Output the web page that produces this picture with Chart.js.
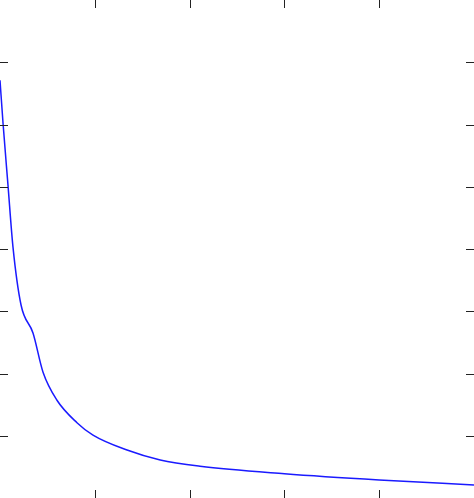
<!DOCTYPE html><html><head><style>html,body{margin:0;padding:0;background:#fff}#w{width:474px;height:498px}</style>
<script src="https://cdn.jsdelivr.net/npm/chart.js@4"></script></head><body><div id="w"><canvas id="c"></canvas></div><script>
const xs=[0,0.032,0.084,0.137,0.222,0.348,0.454,0.601,0.812,0.981,1.34,1.69,2.11,3.0,4.0,5.0];
const ys=[6.71,6.02,5.03,4.03,3.10,2.65,2.02,1.57,1.21,1.01,0.77,0.61,0.51,0.39,0.29,0.21];
const xTicks=[1,2,3,4];const yTicks=[1,2,3,4,5,6,7];
const tickPlug={id:'tk',afterDraw(ch){const c=ch.ctx,x=ch.scales.x,y=ch.scales.y,a=ch.chartArea;c.save();c.strokeStyle='#222';c.lineWidth=1;c.beginPath();
xTicks.forEach(t=>{const p=Math.round(x.getPixelForValue(t))+0.5;c.moveTo(p,a.top);c.lineTo(p,a.top+8);c.moveTo(p,a.bottom);c.lineTo(p,a.bottom-8);});
yTicks.forEach(t=>{const p=Math.round(y.getPixelForValue(t))+0.5;c.moveTo(a.left,p);c.lineTo(a.left+8,p);c.moveTo(a.right,p);c.lineTo(a.right-8,p);});
c.stroke();c.restore();}};
new Chart(document.getElementById('c'),{type:'scatter',data:{datasets:[{data:xs.map((v,i)=>({x:v,y:ys[i]})),showLine:true,borderColor:'#1a1aff',borderWidth:1.5,pointRadius:0,cubicInterpolationMode:'monotone'}]},
options:{responsive:true,maintainAspectRatio:false,animation:false,layout:{padding:0},plugins:{legend:{display:false},tooltip:{enabled:false}},
scales:{x:{type:'linear',min:0,max:5,display:false},y:{type:'linear',min:0,max:8,display:false}}},plugins:[tickPlug]});
</script></body></html>
